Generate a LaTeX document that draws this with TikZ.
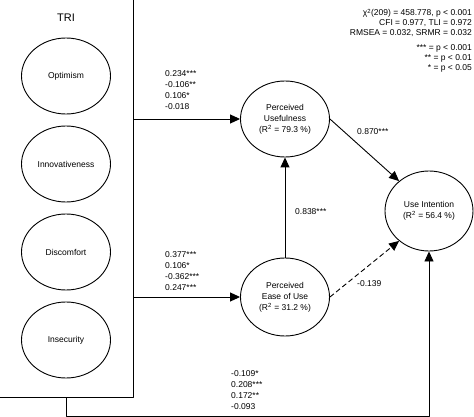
\documentclass[tikz,border=0pt]{standalone}
\usepackage{fontspec}
\setmainfont{Liberation Sans}
\usetikzlibrary{shapes.geometric,arrows.meta}

\begin{document}
\begin{tikzpicture}[x=1pt,y=-1pt,>={Triangle[length=10pt,width=9pt]},line join=round,
  font=\fontsize{8.5}{11}\selectfont,
  latent/.style={draw,ellipse,line width=0.9pt,inner sep=0pt,minimum width=89pt,minimum height=76pt,align=center},
  pathline/.style={->,line width=0.9pt},
  coef/.style={align=left,anchor=west,inner sep=0pt}]
		\useasboundingbox (0,0) rectangle (474,417);
		\clip (0,0) rectangle (474,417);
		% TRI block
		\node[draw,line width=0.9pt,minimum width=134pt,minimum height=402pt,inner sep=0pt] (tri) at (66,196) {};
		\node[font=\fontsize{11}{13}\selectfont] (trilabel) at (66,18) {TRI};
		\node[latent] (opt) at (66,76) {Optimism};
		\node[latent] (inn) at (66,164) {Innovativeness};
		\node[latent] (dis) at (66,252) {Discomfort};
		\node[latent] (ins) at (66,340) {Insecurity};
		% outcomes
		\node[latent] (pu) at (285,119) {Perceived\\Usefulness\\(R\textsuperscript{2} = 79.3 \%)};
		\node[latent,minimum height=78pt] (peu) at (285,297) {Perceived\\Ease of Use\\(R\textsuperscript{2} = 31.2 \%)};
		\node[latent,minimum height=80pt,minimum width=88pt] (ui) at (429,211) {Use Intention\\(R\textsuperscript{2} = 56.4 \%)};
		% paths
		\draw[pathline] (tri.east |- pu.west) -- (pu.west);
		\draw[pathline] (tri.east |- peu.west) -- (peu.west);
		\draw[pathline] (peu) -- (pu);
		\draw[pathline] (pu.east) -- (ui.135);
		\draw[pathline,dashed,dash pattern=on 5pt off 3pt] (peu.east) -- (ui.-135);
		\draw[pathline] (tri.south) -- ++(0,19) -| (ui);
		% coefficients
		\node[coef] (c1) at (165,90) {0.234***\\-0.106**\\0.106*\\-0.018};
		\node[coef] (c2) at (165,271) {0.377***\\0.106*\\-0.362***\\0.247***};
		\node[coef] (c3) at (231,390) {-0.109*\\0.208***\\0.172**\\-0.093};
		\node[coef] (c4) at (295,212) {0.838***};
		\node[coef] (c5) at (357,132) {0.870***};
		\node[coef] (c6) at (357,284) {-0.139};
		% fit indices
		\node[align=right,anchor=east,inner sep=0pt,font=\fontsize{8.5}{10}\selectfont] (fit) at (472,23)
		 {χ\textsuperscript{2}(209) = 458.778, p < 0.001\\CFI = 0.977, TLI = 0.972\\RMSEA = 0.032, SRMR = 0.032};
		\node[align=right,anchor=east,inner sep=0pt,font=\fontsize{8.5}{10}\selectfont] (sig) at (472,58)
		 {*** = p < 0.001\\** = p < 0.01\\* = p < 0.05};
\end{tikzpicture}
\end{document}
